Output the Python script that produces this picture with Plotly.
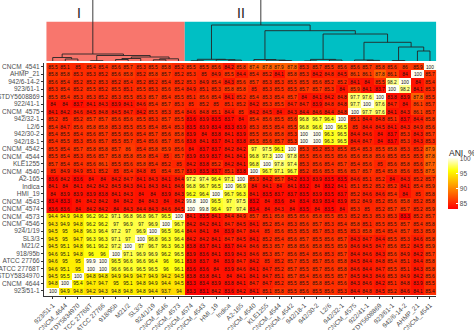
import plotly.graph_objects as go

# Strains, in leaf order of the clustering (index 0 = bottom row / left column)
strains = ["923/51-1", "CNCM_4644", "2789STDY5834970", "ATCC 27768T", "ATCC 27766",
           "918/95b", "M21/2", "SL3/3", "924/1/19", "CNCM_4546", "CNCM_4573",
           "CNCM_4574", "CNCM_4543", "HMI_19", "Indica", "A2-165",
           "CNCM_4540", "KLE1255", "CNCM_4544", "CNCM_4542",
           "942/18-1", "942/30-2", "L2/6", "942/32-1",
           "CNCM_4575", "922/41-1", "2789STDY5608869",
           "923/61-1", "942/6-14-2", "AHMP_21", "CNCM_4541"]

cluster_names = ["I", "II"]
cluster_sizes = [11, 20]
cluster_colors = ["#F8766D", "#00BFC4"]

# Pairwise ANI (%), row = query strain, column = reference strain (same order as strains)
ani_pct = [
    [100, 94.9, 94.8, 94.2, 94.3, 94.8, 94.8, 94.8, 94.4, 93.7, 94, 83.3, 83.1, 84.2, 83.6, 84.2, 84.1, 85.1, 85.8, 85.5, 85.6, 85.5, 85.6, 85.3, 84.4, 84.8, 84.5, 85.2, 84.6, 84.1, 85.4],
    [94.8, 100, 95.4, 94.7, 94.7, 95, 95.1, 94.8, 94.9, 94.4, 94.5, 83.3, 83.4, 83.9, 83.8, 84.1, 84.7, 84.7, 85.2, 85.5, 85.5, 85.8, 85.4, 85.6, 84.3, 84.6, 84.2, 85.1, 84.8, 83.9, 85.5],
    [94.5, 95.5, 100, 94.8, 94.8, 94.9, 94.9, 94.7, 94.9, 94.2, 94.5, 83.8, 83.8, 84.1, 84, 84.1, 84.1, 84.7, 85.1, 85.7, 85.4, 85.6, 85.5, 85.7, 84.5, 84.3, 84.6, 85.3, 84.9, 84.2, 85.6],
    [94.6, 95.1, 95, 100, 100, 96.6, 96.6, 96.5, 96.5, 96, 96.1, 83.6, 83.6, 84, 83.9, 84.6, 84.1, 84.7, 85.2, 85.7, 85.5, 85.7, 85.6, 85.8, 84.6, 84.4, 84.7, 85.5, 85.1, 84.3, 85.8],
    [94.6, 95, 95, 99.9, 100, 96.5, 96.6, 96.6, 96.4, 96, 96.1, 83.8, 83.7, 84, 83.9, 84.7, 84.2, 85, 85.2, 85.7, 85.5, 85.7, 85.6, 85.8, 84.5, 84.4, 84.8, 85.4, 85.1, 84.4, 85.8],
    [94.6, 95.1, 94.8, 96, 96, 100, 97.1, 96.9, 96.9, 96.2, 96.5, 83.9, 83.6, 84.1, 83.9, 84.3, 84.6, 85.3, 85.7, 85.6, 85.4, 85.6, 85.3, 85.7, 84.4, 84.6, 84.3, 85.6, 84.9, 84.2, 85.7],
    [94.5, 95.1, 94.8, 96.1, 96.2, 97.2, 100, 97, 96.7, 96.3, 96.3, 83.8, 83.7, 84.1, 83.7, 84.4, 84.6, 85.3, 85.7, 85.8, 85.6, 85.8, 85.5, 85.9, 84.6, 84.5, 84.7, 85.6, 85.2, 84.5, 85.9],
    [94.5, 95, 94.7, 96.3, 96.3, 97.1, 97, 100, 96.8, 96.3, 96.4, 84.2, 84.2, 84.1, 84.7, 84.5, 84.1, 85.2, 85.4, 85.6, 85.7, 85.5, 85.6, 85.7, 84.3, 84.7, 84.4, 85.5, 85.3, 84.6, 85.8],
    [94.5, 95, 94.8, 96.3, 96.4, 97.2, 97, 96.9, 100, 96.5, 96.4, 84.4, 84.1, 84, 83.9, 84.7, 84.4, 85, 85.6, 85.5, 85.5, 85.7, 85.3, 85.5, 85.3, 85.8, 85.4, 85.4, 85.7, 85.3, 85.9],
    [94.3, 94.9, 94.8, 96.2, 96.2, 97, 96.9, 97, 96.9, 100, 96.7, 84.2, 84.2, 84.1, 84.7, 84.5, 84.1, 85.2, 85.4, 85.3, 85.6, 85.7, 85.3, 85.4, 85.8, 85.1, 85.5, 85.5, 85.7, 85.4, 85.8],
    [94.4, 94.9, 94.8, 96.2, 96.2, 97.1, 96.8, 96.8, 96.7, 96.5, 100, 84.1, 83.5, 84.1, 84.4, 84.9, 85.7, 85.1, 85.8, 85.5, 85.6, 85.8, 85.5, 85.3, 85.2, 85.3, 85.3, 85.3, 83.3, 85.2, 85.7],
    [83.6, 83.6, 84, 84.2, 84.2, 84, 84.3, 84.4, 84.3, 84.6, 84.5, 100, 99.8, 96.4, 97, 97.4, 83.4, 84, 84.3, 84, 83.5, 84, 83.5, 84, 85.3, 85, 85.2, 85.7, 85.7, 85.2, 85.9],
    [83.4, 83.3, 84, 84.2, 84.2, 84, 84.2, 84, 84.3, 84, 84.2, 99.8, 100, 96.5, 97, 97.5, 83.2, 84, 83.6, 84, 83.4, 83.9, 83.4, 83.9, 85.2, 84.9, 85.2, 85.6, 85.8, 85.2, 85.8],
    [84, 83.9, 83.9, 83.9, 83.8, 84.1, 84.3, 84, 84, 83.9, 84.3, 96.2, 96.4, 100, 96.7, 96.3, 84.1, 83.5, 83.7, 83.7, 83.5, 83.9, 83.5, 83.7, 85.2, 84.6, 84.6, 85.4, 84, 85, 85.8],
    [84.1, 84, 84.1, 84.2, 84.2, 84.5, 84.3, 84.1, 84.3, 84.1, 84.6, 96.8, 96.7, 96.5, 100, 96.9, 84, 84.1, 84, 84.1, 83.2, 84, 83.2, 84.1, 85.1, 85.2, 85.2, 85.2, 84.1, 85.4, 85.9],
    [83.6, 84.2, 83.6, 84, 84, 84.2, 84.7, 84.1, 84.3, 84.1, 84.4, 97.2, 97.4, 96.4, 97.1, 100, 85.3, 84.2, 85.7, 84.2, 83.3, 83.9, 83.5, 83.5, 84.6, 85.1, 85.2, 84, 84.3, 85.2, 85.7],
    [85, 84.9, 84.9, 85.1, 85.2, 85, 85.4, 84.8, 85, 85.4, 85.7, 83.9, 83.5, 83.7, 85.1, 83.8, 100, 96.7, 97.1, 96.7, 85.2, 85.6, 85.5, 85.6, 85.7, 85.7, 85.4, 85.8, 85.6, 85.5, 87.5],
    [85.7, 85.4, 85.4, 85.6, 86.1, 85.5, 85.6, 85.8, 85.4, 85.2, 85, 84.2, 83.8, 85.2, 84.2, 84.1, 96.8, 100, 97.8, 97.4, 85.3, 85.6, 85.4, 85.7, 85.4, 85.6, 85, 85.6, 85.8, 85.6, 87.7],
    [85.5, 85.4, 85.3, 85.6, 85.7, 85.8, 85.8, 85.8, 85.4, 85, 85.7, 83.9, 83.9, 83.7, 84.1, 84.1, 96.8, 97.3, 100, 97.8, 85.5, 85.6, 85.5, 85.6, 85.6, 85.8, 85.6, 85.5, 85.5, 85.5, 87.8],
    [85.5, 85.4, 85.7, 85.8, 85.8, 85.7, 86, 85.4, 85.8, 85.9, 85.6, 84, 83.7, 83.7, 84.2, 84.2, 97, 97.5, 96.1, 100, 85.3, 85.2, 85.3, 85.5, 85.4, 85.3, 85.5, 85.8, 85.3, 85.2, 87.9],
    [85.4, 85.5, 85.3, 85.6, 85.7, 85.5, 85.7, 85.4, 85.6, 85.7, 85.6, 83.8, 84.1, 83.7, 84.1, 83.8, 85.5, 85.6, 85.7, 85.3, 100, 100, 96.3, 96.5, 84.4, 84.7, 84, 83.7, 85.3, 84.3, 85.3],
    [85.4, 85.5, 85.4, 85.6, 85.7, 85.5, 85.6, 85.4, 85.7, 85.6, 85.8, 83.9, 84, 83.8, 84.1, 83.9, 85.5, 85.6, 85.8, 85.3, 100, 100, 96.3, 96.5, 84.4, 84.6, 84, 83.7, 85.3, 84.3, 85.7],
    [85.4, 84.7, 85.6, 85.8, 85.8, 85.3, 85.5, 85.5, 85.4, 85.4, 85.3, 83.5, 83.9, 83.4, 83.3, 83.9, 85.3, 85.5, 85.4, 85.5, 96.8, 96.6, 100, 96.5, 85, 84.4, 84.5, 84.1, 84.3, 84.9, 85.6],
    [85.2, 85, 85.2, 85.7, 85.7, 85.6, 85.6, 85.5, 85.3, 85.7, 85.5, 83.6, 83.9, 83.5, 83.7, 84, 85.4, 85.6, 85.5, 85.6, 96.8, 96.7, 96.4, 100, 85.1, 84.4, 84.8, 85.1, 83.7, 84.4, 85.8],
    [84.1, 84.2, 84.6, 84.5, 84.8, 84.5, 84.7, 84.2, 85.5, 85.3, 85.4, 84.6, 84.8, 85.1, 84.4, 85, 84.2, 84.5, 84, 84.3, 84.4, 84.6, 84.4, 84.8, 100, 97.7, 97.6, 84.1, 84.3, 86.1, 85.7],
    [84, 84, 83.7, 84.1, 84.3, 83.9, 84.1, 84.6, 85.4, 85.7, 85.3, 85, 85.2, 85, 85.1, 85.2, 84.2, 85.3, 85.5, 84.7, 84.7, 83.9, 84.8, 84.8, 97.7, 100, 97.6, 84.7, 84, 86.1, 85.7],
    [85.5, 85.4, 85.3, 85.3, 85.2, 85.3, 85.5, 85.3, 85.7, 85.4, 85.5, 85.1, 85.6, 85.4, 84.1, 85.2, 85.4, 85.3, 85.4, 85.7, 84, 84.1, 84.2, 84.8, 97.7, 97.6, 100, 83.8, 83.9, 87.8, 85.5],
    [85.3, 85.4, 85.2, 85.5, 85.2, 85.5, 85.1, 85.5, 85.3, 85.6, 85.4, 84.9, 85.1, 85.3, 85.8, 85.8, 85, 85.3, 85.5, 85.5, 85.7, 85.7, 85.3, 84, 85.9, 84.1, 83.7, 100, 98.2, 84.1, 85.3],
    [85.6, 85.4, 85.2, 85.2, 85.3, 85.2, 85.4, 85.2, 85.2, 85.4, 85.2, 85.3, 84.9, 85.4, 84.3, 85.6, 85.7, 85.3, 85.3, 85.5, 85.5, 85.6, 85.2, 85.2, 84.1, 84, 85.5, 98.2, 100, 84, 85.4],
    [85.8, 85.8, 85.3, 85.3, 85.2, 85.6, 85.8, 85.2, 85.8, 85.7, 85.2, 85.3, 85, 84.9, 85.5, 84.4, 85.4, 85.2, 84.1, 85.8, 85.3, 84.2, 84.8, 84.5, 86.1, 86.1, 87.8, 86.1, 84, 100, 85.7],
    [85.5, 85.1, 85, 85.4, 85.4, 85.6, 85.7, 85.3, 85.5, 85.8, 85.2, 85.5, 85.5, 85.6, 84.2, 85.8, 87.4, 87.8, 87.9, 87.8, 85.3, 85.7, 85.5, 85.6, 85.6, 85.7, 85.8, 85.6, 86, 85.9, 100],
]

# Hierarchical clustering tree: (merge height, left, right); leaves are strain indices
tree_I = (7.0, (3.5, 0, (2.0, 1, 2)),
          (5.5, (0.3, 3, 4),
           (4.0, (2.5, (1.5, 5, 6), 7), (2.2, (1.2, 8, 9), 10))))
tree_II = (36.0, (1.7, (0.2, 11, 12), (1.3, 13, (0.9, 14, 15))),
           (30.3, (1.5, 16, (0.9, 17, (0.5, 18, 19))),
            (27.0, (1.6, (0.05, 20, 21), (1.0, 22, 23)),
             (18.7, (1.0, 24, (0.6, 25, 26)),
              (14.0, (0.5, 27, 28), (10.0, 29, 30))))))
root_height = 75.0
cluster_box_height = 39.3

FONT = "Liberation Sans, Arial, sans-serif"
n = len(strains)

# Dendrogram segments (elbow style)
seg_x, seg_y = [], []


def walk(node):
    if isinstance(node, int):
        return float(node), 0.0
    h, left, right = node
    xl, hl = walk(left)
    xr, hr = walk(right)
    seg_x.extend([xl, xl, xr, xr, None])
    seg_y.extend([hl, h, h, hr, None])
    return (xl + xr) / 2.0, h


xa, ha = walk(tree_I)
xb, hb = walk(tree_II)
seg_x.extend([xa, xa, xb, xb, None])
seg_y.extend([ha, root_height, root_height, hb, None])

# Heat colours: red -> yellow over the lower three quarters, then towards white
heat_scale = [[0.0, "#FF0000"], [0.75, "#FFFF00"], [1.0, "#FFFFF2"]]

fig = go.Figure()

fig.add_trace(go.Heatmap(
    z=ani_pct,
    x=list(range(n)),
    y=list(range(n)),
    colorscale=heat_scale,
    texttemplate="%{z}",
    textfont=dict(size=4.8, color="#111111", family=FONT),
    hoverinfo="skip",
    colorbar=dict(
        x=452 / 474, xanchor="left", xpad=0,
        y=0.443, yanchor="middle", ypad=0,
        len=51, lenmode="pixels", thickness=10,
        tickvals=[85, 90, 95, 100],
        ticks="inside", ticklen=2, tickcolor="white",
        tickfont=dict(size=6.5, color="#4D4D4D", family=FONT),
        outlinewidth=0,
    ),
))

fig.add_trace(go.Scatter(
    x=seg_x, y=seg_y, mode="lines",
    line=dict(color="#262626", width=0.9),
    xaxis="x2", yaxis="y2", hoverinfo="skip", showlegend=False,
))

# Cluster background boxes behind the dendrogram
shapes = []
annotations = []
start = 0
label_pos = [2.12, 15.0]
for name, size, col, lx in zip(cluster_names, cluster_sizes, cluster_colors, label_pos):
    shapes.append(dict(type="rect", xref="x2", yref="y2",
                       x0=start - 0.5, x1=start + size - 0.5,
                       y0=0, y1=cluster_box_height,
                       fillcolor=col, line=dict(width=0), layer="below"))
    annotations.append(dict(text=name, xref="x2", yref="y2", x=lx, y=48.3,
                            showarrow=False, font=dict(size=14, color="#1a1a1a", family=FONT)))
    start += size

# Legend title for the colour bar
annotations.append(dict(text="ANI, %", xref="paper", yref="paper",
                        x=451 / 474, y=(330 - 153) / 330, xanchor="left", yanchor="middle",
                        showarrow=False, font=dict(size=8.5, color="#1a1a1a", family=FONT)))

xdom = [44.3 / 474, 440 / 474]
axis_common = dict(
    range=[-0.7, n - 0.5], tickmode="array", tickvals=list(range(n)), ticktext=strains,
    showgrid=False, zeroline=False, showline=True, linecolor="#333333", linewidth=1,
    ticks="outside", ticklen=2, tickcolor="#333333", automargin=False,
    tickfont=dict(size=6.5, color="#4D4D4D", family=FONT),
)

fig.update_layout(
    template="none",
    width=474, height=330,
    margin=dict(l=0, r=0, t=0, b=0),
    paper_bgcolor="white", plot_bgcolor="white",
    font=dict(family=FONT),
    showlegend=False,
    xaxis=dict(domain=xdom, tickangle=-45, **axis_common),
    yaxis=dict(domain=[(330 - 296.2) / 330, (330 - 63) / 330], **axis_common),
    xaxis2=dict(domain=xdom, range=[-0.7, n - 0.5], anchor="y2", visible=False, fixedrange=True),
    yaxis2=dict(domain=[(330 - 61) / 330, 1.0], range=[0, 61], anchor="x2", visible=False),
    shapes=shapes,
    annotations=annotations,
)

fig.write_html("out.html")
